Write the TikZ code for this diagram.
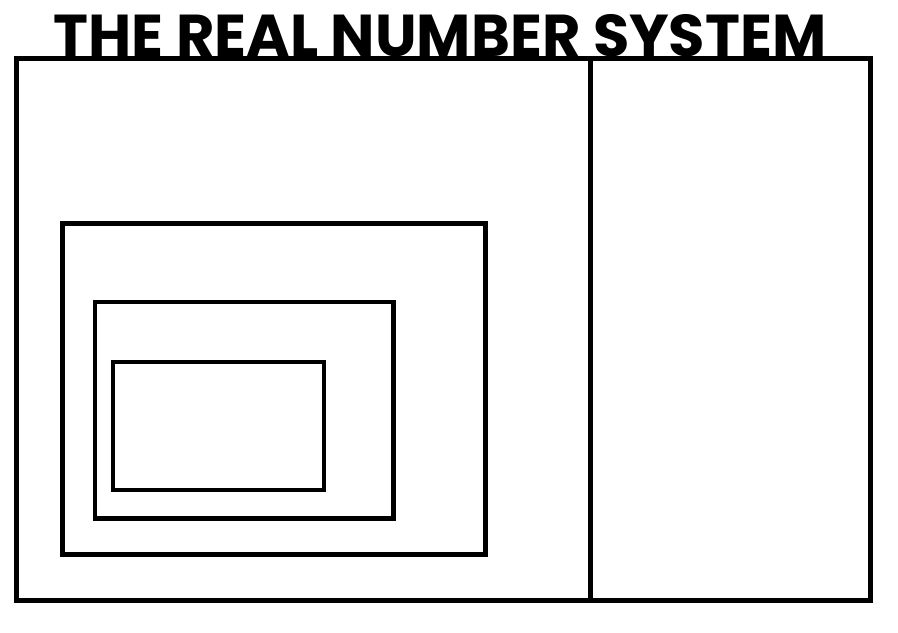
\documentclass[tikz,border=0pt]{standalone}
\usepackage{fontspec}
\newfontfamily\titlefont{Poppins}
\usepackage{tikz}
\tikzstyle{box} = [draw, line width=3.5pt, inner sep=0pt, outer sep=0pt]

\begin{document}
\begin{tikzpicture}[x=0.025cm, y=-0.025cm]
		\useasboundingbox (0,0) rectangle (898,632);
		\node (reals) [box, minimum width=14.35cm, minimum height=13.5375cm] at (303.5,329.25) {};
		\node (irrational) [box, minimum width=7cm, minimum height=13.5375cm] at (730.5,329.25) {};
		\node (rational) [box, minimum width=10.5625cm, minimum height=8.2625cm] at (274.25,388.75) {};
		\node (integer) [box, minimum width=7.45cm, minimum height=5.4cm] at (244,410) {};
		\node (whole) [box, minimum width=5.275cm, minimum height=3.2cm] at (218.5,426) {};
		\node (title) [anchor=base, inner sep=0pt] at (440,56) {\titlefont\bfseries\fontsize{42pt}{42pt}\selectfont THE REAL NUMBER SYSTEM};
	\end{tikzpicture}
\end{document}
